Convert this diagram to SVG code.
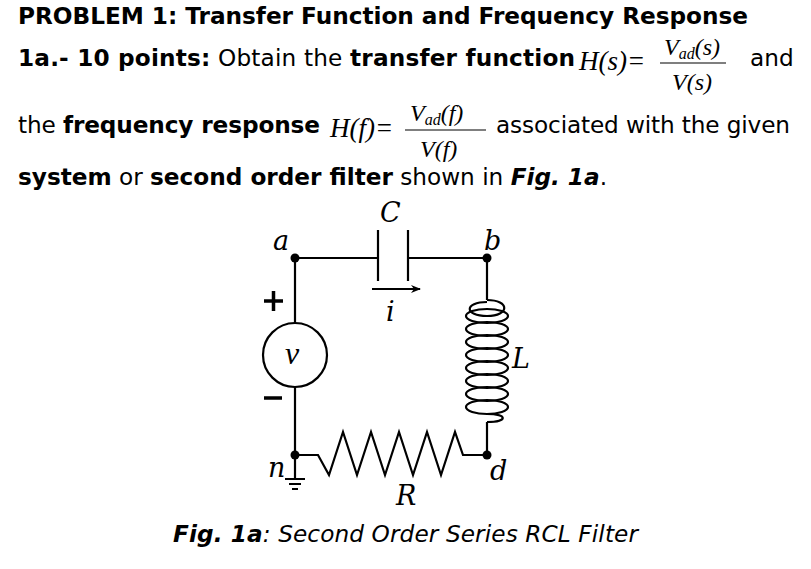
<svg xmlns="http://www.w3.org/2000/svg" width="811" height="569" viewBox="0 0 811 569">
<style>
.t{font-family:"DejaVu Sans",Verdana,sans-serif;font-size:23.2px;fill:#000}
.b{font-weight:bold}
.m{font-family:"Liberation Serif","Times New Roman",serif;font-style:italic;fill:#000}
.w{stroke:#000;stroke-width:2.2;fill:none}
.lb{font-family:"DejaVu Serif","Liberation Serif",serif;font-style:italic;font-size:27px;fill:#000}
</style>
<defs><marker id="ar" markerWidth="10" markerHeight="8" refX="9" refY="4" orient="auto" markerUnits="userSpaceOnUse"><path d="M0,0 L10,4 L0,8 L3,4 Z" fill="#000"/></marker></defs>
<rect width="811" height="569" fill="#fff"/>
<g id="text">
<text class="t b" x="18" y="24" textLength="730">PROBLEM 1: Transfer Function and Frequency Response</text>
<text class="t" x="18" y="66" textLength="557"><tspan class="b">1a.- 10 points:</tspan> Obtain the <tspan class="b">transfer function</tspan></text>
<text class="m" x="579" y="70" font-size="27">H(s)=</text>
<text class="m" x="664" y="55" font-size="24">V<tspan font-size="16" dy="4">ad</tspan><tspan dy="-4">(s)</tspan></text>
<line x1="660" y1="63" x2="726" y2="63" stroke="#000" stroke-width="1.2"/>
<text class="m" x="672" y="90" font-size="24">V(s)</text>
<text class="t" x="750" y="66">and</text>
<text class="t" x="18" y="133" textLength="302">the <tspan class="b">frequency response</tspan></text>
<text class="m" x="330" y="137" font-size="27">H(f)=</text>
<text class="m" x="410" y="121" font-size="24">V<tspan font-size="16" dy="4">ad</tspan><tspan dy="-4">(f)</tspan></text>
<line x1="405" y1="130" x2="486" y2="130" stroke="#000" stroke-width="1.2"/>
<text class="m" x="420" y="157" font-size="24">V(f)</text>
<text class="t" x="496" y="133" textLength="294">associated with the given</text>
<text class="t" x="18" y="185" textLength="589"><tspan class="b">system</tspan> or <tspan class="b">second order filter</tspan> shown in <tspan class="b" font-style="italic">Fig. 1a</tspan>.</text>
<text class="t" x="173" y="542" font-style="italic" textLength="465"><tspan class="b">Fig. 1a</tspan>: Second Order Series RCL Filter</text>
</g>
<g id="connectors">
<path class="w" d="M295,258 H378 M408,258 H487 V300"/>
<path class="w" d="M295,258 V323 M295,387 V455"/>
<path class="w" d="M487,422 V455 H463 L455,432 L441,475 L427,432 L413,475 L399,432 L385,475 L371,432 L357,475 L343,432 L329,475 L318,455 H295 V478"/>
<path class="w" d="M285,479 H305 M289,484 H301 M292,489 H298"/>
<line x1="372" y1="289" x2="420" y2="289" stroke="#000" stroke-width="1.8" marker-end="url(#ar)"/>
</g>
<g id="C"><path class="w" d="M378,230 V281 M408,230 V281"/><text class="lb" x="380" y="222">C</text><text class="lb" x="386" y="321">i</text></g>
<g id="V"><circle class="w" cx="295" cy="355" r="32"/><text class="m" x="285" y="364" font-size="32">v</text>
<path d="M264,301 H283 M273.5,291 V311 M264,398 H282" stroke="#000" stroke-width="3.5" fill="none"/></g>
<g id="L">
<path class="w" d="M487,300 C510,300 510,316 487,316 C464,316 464,302 487,302"/>
<ellipse class="w" cx="487" cy="316" rx="21" ry="7"/><ellipse class="w" cx="487" cy="329" rx="21" ry="7"/>
<ellipse class="w" cx="487" cy="342" rx="21" ry="7"/><ellipse class="w" cx="487" cy="355" rx="21" ry="7"/>
<ellipse class="w" cx="487" cy="368" rx="21" ry="7"/><ellipse class="w" cx="487" cy="381" rx="21" ry="7"/>
<ellipse class="w" cx="487" cy="394" rx="21" ry="7"/><ellipse class="w" cx="487" cy="407" rx="21" ry="7"/>
<path class="w" d="M487,414 C508,414 508,422 487,422"/>
<text class="lb" x="512" y="368">L</text></g>
<g id="R"><text class="lb" x="396" y="505">R</text></g>
<g id="nodes">
<circle cx="295" cy="258" r="4.5"/><circle cx="487" cy="258" r="4.5"/><circle cx="295" cy="455" r="4.5"/><circle cx="487" cy="455" r="4.5"/>
<text class="lb" x="273" y="250">a</text><text class="lb" x="484" y="250">b</text><text class="lb" x="268" y="477">n</text><text class="lb" x="490" y="480">d</text>
</g>
</svg>
